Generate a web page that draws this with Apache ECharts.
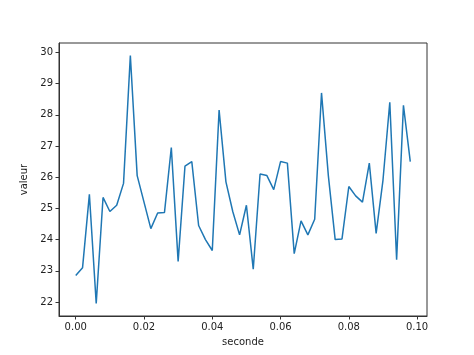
<!DOCTYPE html>
<html><head><meta charset="utf-8">
<script src="https://cdn.jsdelivr.net/npm/echarts@6/dist/echarts.min.js"></script>
<style>html,body{margin:0;padding:0;background:#fff}#c{width:474px;height:355px}</style>
</head><body><div id="c"></div>
<script>
const seconds = [0.000,0.002,0.004,0.006,0.008,0.010,0.012,0.014,0.016,0.018,
0.020,0.022,0.024,0.026,0.028,0.030,0.032,0.034,0.036,0.038,
0.040,0.042,0.044,0.046,0.048,0.050,0.052,0.054,0.056,0.058,
0.060,0.062,0.064,0.066,0.068,0.070,0.072,0.074,0.076,0.078,
0.080,0.082,0.084,0.086,0.088,0.090,0.092,0.094,0.096,0.098];
const values = [22.85,23.1,25.45,21.95,25.35,24.9,25.1,25.8,29.9,26.05,
25.2,24.35,24.85,24.87,26.95,23.3,26.35,26.5,24.45,24.0,
23.65,28.15,25.85,24.9,24.15,25.1,23.05,26.1,26.05,25.6,
26.5,26.45,23.55,24.6,24.15,24.65,28.7,26.05,24.0,24.02,
25.7,25.4,25.2,26.45,24.2,25.9,28.4,23.35,28.3,26.5];
const xTicks = [0,0.02,0.04,0.06,0.08,0.10];
const yTicks = [22,23,24,25,26,27,28,29,30];

const font = 'DejaVu Sans';
const chart = echarts.init(document.getElementById('c'), null, {renderer:'canvas'});
chart.setOption({
  animation:false,
  grid:{left:59,top:43,right:47,bottom:39,show:true,borderColor:'#333',borderWidth:1,containLabel:false},
  xAxis:{type:'value',min:-0.0049,max:0.1029,
    name:'seconde',nameLocation:'middle',nameGap:21,
    nameTextStyle:{fontFamily:font,fontSize:10,color:'#222'},
    axisLine:{show:true,onZero:false,lineStyle:{color:'#333'}},
    axisTick:{show:true,length:3.5,customValues:xTicks,lineStyle:{color:'#333'}},
    axisLabel:{customValues:xTicks,fontFamily:font,fontSize:10,color:'#222',margin:6,
      formatter:v=>v.toFixed(2)},
    splitLine:{show:false}},
  yAxis:{type:'value',min:21.55,max:30.3,
    name:'valeur',nameLocation:'middle',nameGap:24,nameRotate:90,
    nameTextStyle:{fontFamily:font,fontSize:10,color:'#222'},
    axisLine:{show:true,onZero:false,lineStyle:{color:'#333'}},
    axisTick:{show:true,length:3.5,customValues:yTicks,lineStyle:{color:'#333'}},
    axisLabel:{customValues:yTicks,fontFamily:font,fontSize:10,color:'#222',margin:6},
    splitLine:{show:false}},
  series:[{type:'line',data:seconds.map((s,i)=>[s,values[i]]),showSymbol:false,
    lineStyle:{color:'#1f77b4',width:1.5},itemStyle:{color:'#1f77b4'}}]
});
</script></body></html>
